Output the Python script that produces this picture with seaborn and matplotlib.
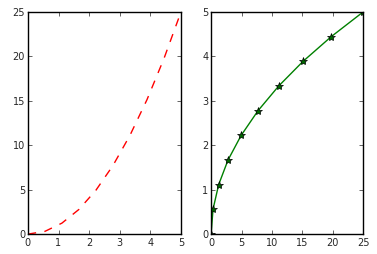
import matplotlib
matplotlib.use("Agg")
import matplotlib.pyplot as plt
import seaborn as sns
import pandas as pd

x_vals = [0.0, 0.556, 1.111, 1.667, 2.222, 2.778, 3.333, 3.889, 4.444, 5.0]
y_vals = [0.0, 0.309, 1.235, 2.778, 4.938, 7.716, 11.111, 15.123, 19.753, 25.0]
left_xticks = [0, 1, 2, 3, 4, 5]
left_yticks = [0, 5, 10, 15, 20, 25]
right_xticks = [0, 5, 10, 15, 20, 25]
right_yticks = [0, 1, 2, 3, 4, 5]

plt.style.use("classic")
sns.set_style("ticks", {"xtick.direction": "in", "ytick.direction": "in"})
plt.rcParams.update({
    "font.family": ["DejaVu Sans"],
    "font.size": 7,
    "xtick.labelsize": 7,
    "ytick.labelsize": 7,
    "xtick.major.size": 3,
    "ytick.major.size": 3,
    "xtick.top": True,
    "ytick.right": True,
    "axes.linewidth": 1.0,
    "axes.edgecolor": "black",
})

df = pd.DataFrame({"x": x_vals, "y": y_vals})

fig = plt.figure(figsize=(3.77, 2.55), dpi=100)
ax1 = fig.add_axes([0.074, 0.078, 0.406, 0.871])
ax2 = fig.add_axes([0.560, 0.078, 0.403, 0.871])

sns.lineplot(data=df, x="x", y="y", ax=ax1, sort=False, estimator=None,
             color="red", linestyle="--", linewidth=1.0)
sns.lineplot(data=df, x="y", y="x", ax=ax2, sort=False, estimator=None,
             color=(0, 0.5, 0), linewidth=1.0, marker="*", markersize=6,
             markerfacecolor=(0, 0.4, 0), markeredgecolor="black", markeredgewidth=0.5)

for ax, xt, yt in [(ax1, left_xticks, left_yticks), (ax2, right_xticks, right_yticks)]:
    ax.set_xlim(xt[0], xt[-1])
    ax.set_ylim(yt[0], yt[-1])
    ax.set_xticks(xt)
    ax.set_yticks(yt)
    ax.set_xlabel("")
    ax.set_ylabel("")
    ax.tick_params(direction="in", top=True, right=True, length=3, pad=2)
    for s in ax.spines.values():
        s.set_visible(True)
        s.set_color("black")

fig.savefig("out.png", dpi=100)
